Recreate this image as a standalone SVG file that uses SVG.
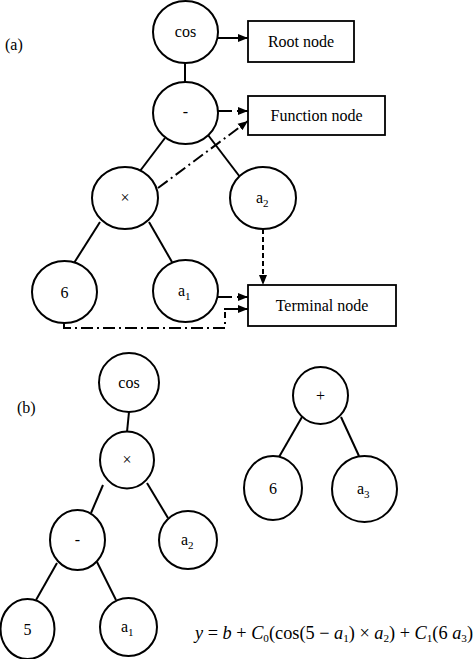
<svg xmlns="http://www.w3.org/2000/svg" width="474" height="659" viewBox="0 0 474 659" font-family="'Liberation Serif', 'Times New Roman', serif">
<defs>
<style>
.n ellipse{fill:#fff;stroke:#000;stroke-width:2}
.b rect{fill:#fff;stroke:#000;stroke-width:1.8}
text{font-family:"Liberation Serif","Times New Roman",serif;font-size:16px;fill:#000}
.c{text-anchor:middle}
.sub{font-size:11px}
.e line,.e path{stroke:#000;stroke-width:2;fill:none}
.dash{stroke-dasharray:14 5}
.sdash{stroke-dasharray:5 3}
.dd{stroke-dasharray:12 4 2 4}
.eq{font-size:18px}
.i{font-style:italic}
</style>
<marker id="ar" markerUnits="userSpaceOnUse" markerWidth="10" markerHeight="10" viewBox="0 0 10 10" refX="10" refY="5" orient="auto">
<path d="M0,1 L10,5 L0,9 Z" fill="#000"/>
</marker>
</defs>
<rect width="474" height="659" fill="#fff"/>
<text x="5" y="50">(a)</text>
<text x="17" y="413">(b)</text>
<g id="connectors" class="e">
<line x1="185" y1="62" x2="185" y2="82"/>
<line x1="165" y1="138" x2="140" y2="171"/>
<line x1="208" y1="135" x2="240" y2="177"/>
<line x1="100" y1="222" x2="74" y2="263"/>
<line x1="149" y1="222" x2="172" y2="262"/>
<line x1="218" y1="38" x2="248" y2="38" marker-end="url(#ar)"/>
<line x1="218" y1="111" x2="248" y2="111" class="dash" marker-end="url(#ar)"/>
<line x1="158" y1="188" x2="248" y2="121" class="dd" marker-end="url(#ar)"/>
<line x1="263" y1="229" x2="263" y2="285" class="sdash" marker-end="url(#ar)"/>
<line x1="218" y1="297" x2="248" y2="297" class="dash" marker-end="url(#ar)"/>
<path d="M64,323 V328 H225 V312" class="dd"/>
<line x1="224" y1="309" x2="248" y2="309" marker-end="url(#ar)"/>
<line x1="129" y1="412" x2="127" y2="432"/>
<line x1="103" y1="485" x2="91" y2="513"/>
<line x1="147" y1="483" x2="168" y2="518"/>
<line x1="57" y1="563" x2="36" y2="600"/>
<line x1="97" y1="562" x2="116" y2="600"/>
<line x1="302" y1="417" x2="279" y2="457"/>
<line x1="341" y1="417" x2="359" y2="456"/>
</g>
<g id="a_cos" class="n"><ellipse cx="185.5" cy="32" rx="32.5" ry="31"/><text class="c" x="185.5" y="37">cos</text></g>
<g id="a_minus" class="n"><ellipse cx="185.5" cy="113" rx="32.5" ry="31"/><text class="c" x="185.5" y="117">-</text></g>
<g id="a_times" class="n"><ellipse cx="125" cy="198" rx="33" ry="31"/><text class="c" x="125" y="203">×</text></g>
<g id="a_a2" class="n"><ellipse cx="263" cy="198" rx="33" ry="31"/><text x="256" y="203">a<tspan class="sub" dy="4">2</tspan></text></g>
<g id="a_6" class="n"><ellipse cx="64.5" cy="292" rx="32.5" ry="31"/><text class="c" x="64.5" y="298">6</text></g>
<g id="a_a1" class="n"><ellipse cx="185.5" cy="291" rx="32.5" ry="31"/><text x="178" y="296">a<tspan class="sub" dy="4">1</tspan></text></g>
<g id="root_box" class="b"><rect x="248" y="21" width="106" height="41"/><text class="c" x="301" y="47">Root node</text></g>
<g id="function_box" class="b"><rect x="248" y="96" width="137" height="39"/><text class="c" x="316.5" y="121">Function node</text></g>
<g id="terminal_box" class="b"><rect x="248" y="285" width="148" height="41"/><text class="c" x="322" y="311">Terminal node</text></g>
<g id="b_cos" class="n"><ellipse cx="129" cy="382.5" rx="30" ry="29.5"/><text class="c" x="129" y="388">cos</text></g>
<g id="b_times" class="n"><ellipse cx="127" cy="460" rx="27" ry="28.5"/><text class="c" x="127" y="465">×</text></g>
<g id="b_minus" class="n"><ellipse cx="77.5" cy="540" rx="27.5" ry="30"/><text class="c" x="77.5" y="545">-</text></g>
<g id="b_a2" class="n"><ellipse cx="188" cy="540" rx="29" ry="29"/><text x="181" y="545">a<tspan class="sub" dy="4">2</tspan></text></g>
<g id="b_5" class="n"><ellipse cx="27.5" cy="629" rx="27" ry="30"/><text class="c" x="27.5" y="635">5</text></g>
<g id="b_a1" class="n"><ellipse cx="128.5" cy="627" rx="28.5" ry="29"/><text x="121" y="632">a<tspan class="sub" dy="4">1</tspan></text></g>
<g id="b_plus" class="n"><ellipse cx="320.5" cy="395.5" rx="27.5" ry="28.5"/><text class="c" x="320.5" y="401">+</text></g>
<g id="b_6" class="n"><ellipse cx="273" cy="488" rx="29" ry="32"/><text class="c" x="273" y="494">6</text></g>
<g id="b_a3" class="n"><ellipse cx="364.5" cy="489" rx="32.5" ry="33"/><text x="357" y="494">a<tspan class="sub" dy="4">3</tspan></text></g>
<text class="eq" x="195" y="639" textLength="278" lengthAdjust="spacingAndGlyphs"><tspan class="i">y</tspan> = <tspan class="i">b</tspan> + <tspan class="i">C</tspan><tspan class="sub" dy="3">0</tspan><tspan dy="-3">(cos(5 − </tspan><tspan class="i">a</tspan><tspan class="sub" dy="3">1</tspan><tspan dy="-3">) × </tspan><tspan class="i">a</tspan><tspan class="sub" dy="3">2</tspan><tspan dy="-3">) + </tspan><tspan class="i">C</tspan><tspan class="sub" dy="3">1</tspan><tspan dy="-3">(6 </tspan><tspan class="i">a</tspan><tspan class="sub" dy="3">3</tspan><tspan dy="-3">)</tspan></text>
</svg>
